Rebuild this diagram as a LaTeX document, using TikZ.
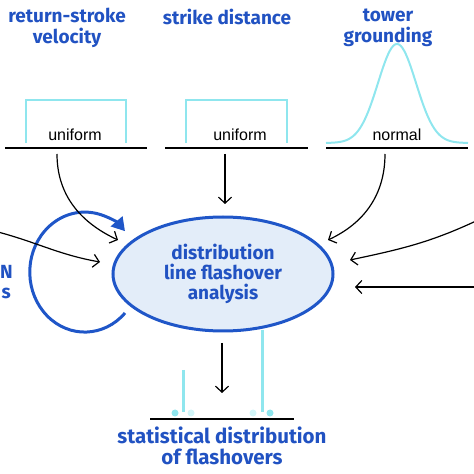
\documentclass[tikz,border=0pt]{standalone}
\usepackage{fontspec}
\setmainfont{Fira Sans}
\newfontfamily\helv{Liberation Sans}
\usetikzlibrary{arrows.meta,shapes.geometric,positioning}
\definecolor{headblue}{HTML}{2152C2}
\definecolor{loopblue}{HTML}{1F56C8}
\definecolor{pdfcyan}{HTML}{8FE6EE}
\definecolor{pdffaint}{HTML}{D2F5F8}
\definecolor{ellfill}{HTML}{E3EDF9}

\begin{document}
\begin{tikzpicture}[x=1pt,y=1pt,
    heading/.style={font=\fontsize{19}{21}\selectfont\bfseries, text=headblue, align=center, inner sep=0pt},
    distname/.style={font=\helv\fontsize{16}{19}\selectfont, inner sep=0pt},
    axisline/.style={line width=2pt},
    pdfcurve/.style={draw=pdfcyan, line width=2pt},
    flow/.style={line width=1.2pt, -{Straight Barb[length=6pt,width=13pt]}}]
  \useasboundingbox (0,0) rectangle (474,474);

  % input distributions
  \draw[pdfcurve] (26,331) |- (126,374) -- (126,331);
  \draw[pdfcurve] (186,331) |- (287,374) -- (287,331);
  \draw[pdfcurve] plot[domain=-71:71, samples=90] ({397+\x},{331+99*exp(-(\x*\x)/(2*19*19))});
  \draw[axisline] (5,326) coordinate (ax1w) -- (147,326) coordinate (ax1e);
  \draw[axisline] (165,326) coordinate (ax2w) -- (308,326) coordinate (ax2e);
  \draw[axisline] (326,326) coordinate (ax3w) -- (468,326) coordinate (ax3e);
  \node[distname] (dist1) at (75,339) {uniform};
  \node[distname] (dist2) at (240,339) {uniform};
  \node[distname] (dist3) at (397,339) {normal};

  \node[heading] (rsv) at (67,446.5) {return-stroke\\velocity};
  \node[heading] (sdist) at (227,457) {strike distance};
  \node[heading] (tgnd) at (388,446.5) {tower\\grounding};

  % central analysis
  \node[ellipse, draw=loopblue, line width=3pt, fill=ellfill, minimum width=220, minimum height=114,
        heading, font=\fontsize{19}{20}\selectfont\bfseries] (flash) at (223,200) {distribution\\line flashover\\analysis};

  \node[heading, anchor=east] (leftN) at (13,202) {N};
  \node[heading, anchor=east] (lefts) at (11,181) {s};

  \draw[loopblue, line width=3pt, -{Triangle[length=13pt,width=15pt]}]
    (125,161) coordinate (loopst) arc[start angle=-43, end angle=-317, x radius=55, y radius=60];

  % inputs to the analysis
  \coordinate (in1) at (118,234);
  \coordinate (in2) at (225,270);
  \coordinate (in3) at (328,234);
  \coordinate (in4) at (100,212);
  \coordinate (in5) at (350,214);
  \coordinate (in6) at (355,187);
  \coordinate (src4) at (-2,242);
  \coordinate (src5) at (476,253);
  \coordinate (src6) at (476,187);
  \draw[flow] (57,320) to[out=-90,in=155] (in1);
  \draw[flow] (225,320) -- (in2);
  \draw[flow] (385,320) to[out=-90,in=25] (in3);
  \draw[flow] (src4) to[out=-15,in=170] (in4);
  \draw[flow] (src5) to[out=205,in=12] (in5);
  \draw[flow] (src6) -- (in6);

  % output distribution
  \coordinate (outtop) at (222,131);
  \coordinate (outend) at (222,81);
  \draw[flow] (outtop) -- (outend);
  \draw[pdfcyan, line width=3pt] (262,144) -- (262,62);
  \draw[pdfcyan, line width=3pt] (183,104) -- (183,62);
  \foreach \x/\c in {175/pdfcyan,191/pdffaint,253/pdffaint,270/pdfcyan}{
    \fill[\c] (\x,61) circle[radius=3.5];
  }
  \draw[axisline] (150,55) coordinate (outw) -- (294,55) coordinate (oute);
  \node[heading, font=\fontsize{20.5}{21}\selectfont\bfseries] (stat) at (222,28) {statistical distribution\\of flashovers};
\end{tikzpicture}
\end{document}
